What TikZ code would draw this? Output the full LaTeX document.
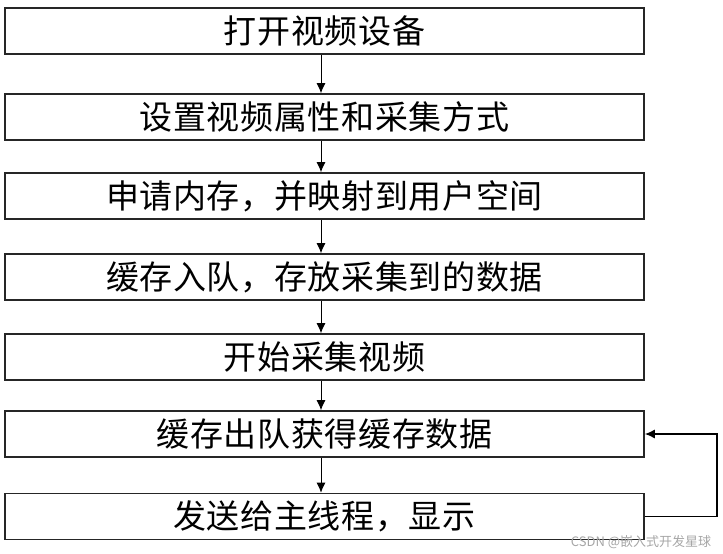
\documentclass[tikz,border=0pt]{standalone}
\usepackage{fontspec}
\usetikzlibrary{arrows.meta}
\newfontfamily\cjk[LetterSpace=2]{Noto Sans CJK SC}
\newfontfamily\cjkmark{Noto Sans CJK SC}

\begin{document}
\begin{tikzpicture}[
  x=1pt, y=-1pt,
  stepbox/.style={
    draw=black!85,
    line width=1.6pt,
    minimum width=639pt,
    minimum height=46pt,
    inner sep=0pt,
    font=\cjk\fontsize{33}{38}\selectfont
  },
  flow/.style={
    -{Latex[length=10pt,width=9pt]},
    line width=1pt
  }
]
  \useasboundingbox (0,0) rectangle (723,554);
  \node[stepbox] (open) at (324.5,31) {打开视频设备};
  \node[stepbox] (setup) at (324.5,117) {设置视频属性和采集方式};
  \node[stepbox] (mmap) at (324.5,196) {申请内存，并映射到用户空间};
  \node[stepbox] (enqueue) at (324.5,277) {缓存入队，存放采集到的数据};
  \node[stepbox] (start) at (324.5,357) {开始采集视频};
  \node[stepbox] (dequeue) at (324.5,434) {缓存出队获得缓存数据};
  \node[stepbox] (send) at (324.5,516.5) {发送给主线程，显示};
  \draw[flow] ([xshift=-3.5pt]open.south) -- ([xshift=-3.5pt]setup.north);
  \draw[flow] ([xshift=-3.5pt]setup.south) -- ([xshift=-3.5pt]mmap.north);
  \draw[flow] ([xshift=-3.5pt]mmap.south) -- ([xshift=-3.5pt]enqueue.north);
  \draw[flow] ([xshift=-3.5pt]enqueue.south) -- ([xshift=-3.5pt]start.north);
  \draw[flow] ([xshift=-3.5pt]start.south) -- ([xshift=-3.5pt]dequeue.north);
  \draw[flow] ([xshift=-3.5pt]dequeue.south) -- ([xshift=-3.5pt]send.north);
  % loop back to dequeue
  \coordinate (turn) at (717,516.5);
  \draw[flow, line width=1.3pt] (send.east) -- (turn) |- (dequeue.east);
  \node[text=black!35, font=\cjkmark\fontsize{13}{15}\selectfont] (mark) at (641,542) {CSDN @嵌入式开发星球};
\end{tikzpicture}
\end{document}
